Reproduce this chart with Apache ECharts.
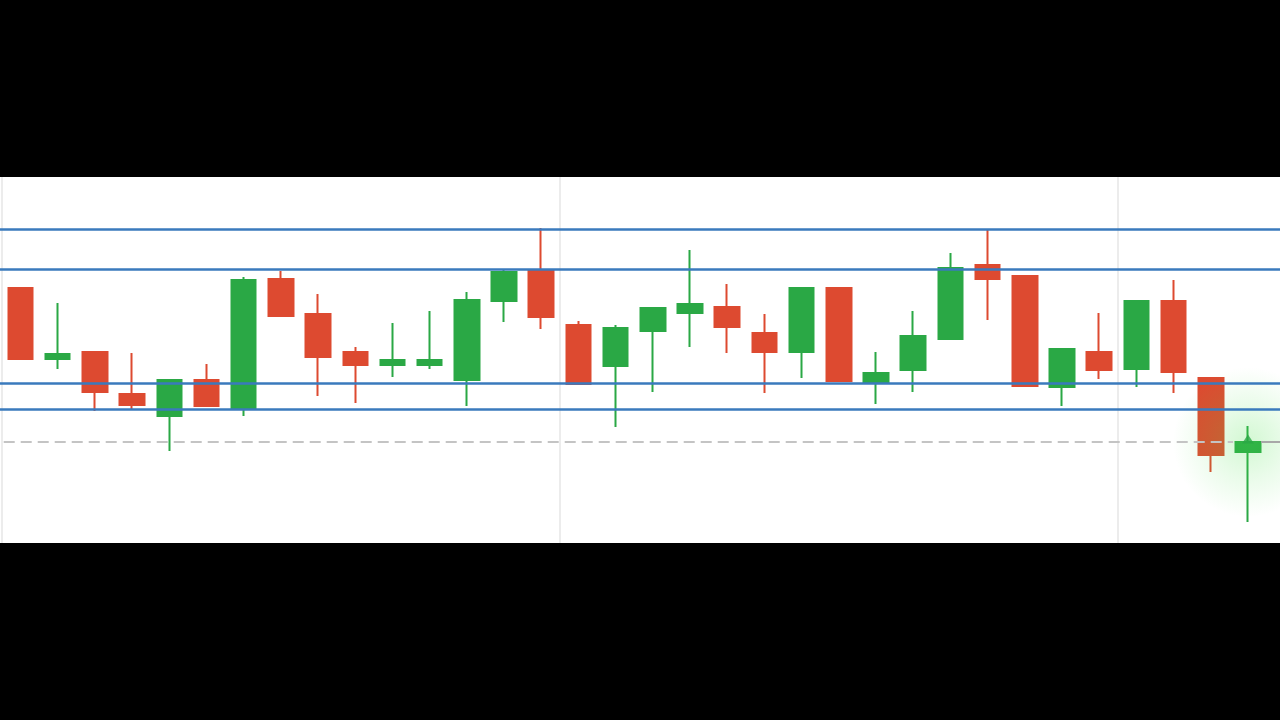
<!DOCTYPE html>
<html>
<head>
<meta charset="utf-8">
<script src="https://cdn.jsdelivr.net/npm/echarts@6/dist/echarts.min.js"></script>
<style>
html,body{margin:0;padding:0;background:#000;}
#c{width:1280px;height:720px;}
</style>
</head>
<body>
<div id="c"></div>
<script>
// Candle data (open, close, low, high), one entry per candle
const openVals  = [255,184,191,149,127,163,134,264,229,191,178,178,163,242,273,218,177,212,230,236,210,191,255,161,173,204,278,267,156,191,174,242,165,91];
const closeVals = [184,189,151,138,163,137,263,227,186,178,183,183,243,271,226,159,215,235,239,216,191,255,162,170,207,275,264,157,194,173,242,171,88,101];
const lowVals   = [184,174,132,134,92,136,127,226,147,140,166,174,137,221,214,159,116,151,196,190,150,165,162,139,151,204,223,157,137,164,156,150,71,21];
const highVals  = [256,240,191,190,163,179,266,272,249,196,220,232,251,274,315,222,218,235,293,259,229,256,255,191,232,290,313,267,194,230,242,263,165,117];
// Horizontal support/resistance levels and current price
const levels = [314, 274, 160, 134];
const currentPrice = 101;
// Vertical grid line positions (category boundaries)
const gridX = [-0.5, 14.5, 29.5];

const candles = openVals.map((o, i) => [i, o, closeVals[i], lowVals[i], highVals[i]]);
const lastIdx = candles.length - 1;
const xMin = -0.551, xMax = 33.861;

const GREEN = '#2aa845', RED = '#dd4a30', BLUE = '#3a7abd';

const markData = [];
gridX.forEach(x => markData.push({xAxis: x, lineStyle: {color: '#e6e6e6', width: 1.5, type: 'solid'}}));
levels.forEach(v => markData.push({yAxis: v, lineStyle: {color: BLUE, width: 2.5, type: 'solid'}}));
markData.push([{coord: [xMin + 0.1, currentPrice], lineStyle: {color: '#c4c4c4', width: 2, type: [11, 6]}}, {coord: [lastIdx - 0.4, currentPrice]}]);
markData.push([{coord: [lastIdx + 0.35, currentPrice], lineStyle: {color: '#a8a8a8', width: 2, type: 'solid'}}, {coord: [xMax, currentPrice]}]);

const chart = echarts.init(document.getElementById('c'));
chart.setOption({
  backgroundColor: '#000',
  animation: false,
  grid: {left: 0, right: 0, top: 177, bottom: 177, show: true, backgroundColor: '#fff', borderWidth: 0},
  xAxis: {type: 'value', min: xMin, max: xMax, show: false},
  yAxis: {type: 'value', min: 0, max: 366, show: false},
  series: [
    {
      type: 'candlestick',
      data: candles,
      encode: {x: 0, y: [1, 2, 3, 4]},
      barWidth: 25,
      itemStyle: {color: GREEN, color0: RED, borderColor: GREEN, borderColor0: RED, borderWidth: 2},
      markLine: {silent: true, symbol: 'none', label: {show: false}, data: markData},
      z: 2
    },
    {
      type: 'scatter',
      silent: true,
      z: 3,
      data: [[lastIdx, currentPrice]],
      symbolSize: 150,
      itemStyle: {
        color: {type: 'radial', x: 0.5, y: 0.5, r: 0.5, colorStops: [
          {offset: 0, color: 'rgba(70,225,70,0.30)'},
          {offset: 0.5, color: 'rgba(70,225,70,0.14)'},
          {offset: 1, color: 'rgba(70,225,70,0)'}
        ]}
      }
    },
    {
      type: 'scatter',
      silent: true,
      z: 4,
      data: [[lastIdx, currentPrice]],
      symbol: 'triangle',
      symbolSize: [12, 9],
      symbolOffset: [0, -3],
      itemStyle: {color: GREEN}
    }
  ]
});
</script>
</body>
</html>
